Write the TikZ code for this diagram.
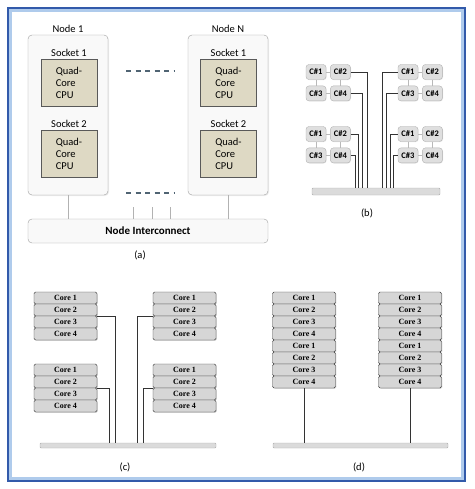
\documentclass[tikz,border=0pt]{standalone}
\usepackage{fontspec}
\setmainfont{Carlito}
\newfontfamily\corefont{Liberation Serif}
\usetikzlibrary{positioning,shadows}
\definecolor{cpufill}{RGB}{222,217,196}
\definecolor{corefill}{RGB}{214,214,214}
\definecolor{dashc}{RGB}{80,100,115}
\definecolor{frameblue}{RGB}{50,90,170}
\definecolor{framelight}{RGB}{175,203,236}
\tikzset{
  lbl/.style={font=\fontsize{10.5}{12}\selectfont, inner sep=1pt},
  nodebox/.style={draw=gray!75, fill=gray!5, rounded corners=4pt, minimum width=80, minimum height=160,
    drop shadow={opacity=0.15, shadow xshift=1pt, shadow yshift=-1pt}},
  cpubox/.style={draw=gray!70!black, fill=cpufill, minimum width=56, minimum height=47, align=left,
    font=\fontsize{10.5}{12}\selectfont, inner sep=0pt},
  icbox/.style={draw=gray!75, fill=gray!5, rounded corners=4pt, minimum width=240, minimum height=24,
    font=\fontsize{11}{13}\selectfont\bfseries},
  cbox/.style={draw=gray!60, fill=gray!25, rounded corners=3pt, minimum width=20, minimum height=15,
    inner sep=0pt, font=\fontsize{8.5}{9}\selectfont\bfseries, drop shadow={opacity=0.2, shadow xshift=0.6pt, shadow yshift=-0.6pt}},
  corebox/.style={draw=gray!45!black, fill=corefill, rounded corners=1.5pt, minimum width=63, minimum height=12,
    inner sep=0pt, font=\corefont\fontsize{8}{9}\selectfont\bfseries, drop shadow={opacity=0.3, shadow xshift=0.8pt, shadow yshift=-0.8pt}},
  bar/.style={draw=gray!65, fill=gray!28, rounded corners=1pt, minimum height=6, inner sep=0pt},
  wire/.style={draw=gray!40!black, line width=0.7pt},
  thinwire/.style={draw=gray!55, line width=0.5pt}
}
\begin{document}
\begin{tikzpicture}[x=1pt, y=-1pt]
\useasboundingbox (0,0) rectangle (474,489);
\draw[framelight, line width=3pt] (10.5,10.5) rectangle (462.5,478.5);
\draw[frameblue, line width=1.2pt] (8,8) rectangle (465,481);
% (a)
\node[nodebox] (node1) at (68,115) {};
\node[nodebox] (nodeN) at (228,115) {};
\node[lbl, above=1pt of node1] (n1lbl) {Node 1};
\node[lbl, above=1pt of nodeN] (nNlbl) {Node N};
\foreach \n/\x in {1/69, N/228.5} {
  \node[cpubox] (cpu\n a) at (\x,82.5) {Quad-\\Core\\CPU};
  \node[cpubox] (cpu\n b) at (\x,153.5) {Quad-\\Core\\CPU};
  \node[lbl, above=1pt of cpu\n a] (s\n a) {Socket 1};
  \node[lbl, above=1pt of cpu\n b] (s\n b) {Socket 2};
}
\draw[dashc, line width=1.1pt, dash pattern=on 5pt off 4.5pt] (126,71) -- (175,71) (126,193) -- (175,193);
\node[icbox] (ic) at (148,231) {Node Interconnect};
\draw[wire, draw=gray!60] (node1.south) -- (node1.south |- ic.north) (nodeN.south) -- (nodeN.south |- ic.north);
\foreach \x in {133,152,170} \draw[wire, draw=gray!60] (\x,207) -- (\x,219);
\node[lbl] (capa) at (140,255) {(a)};
% (b)
\foreach \g/\x/\y in {tl/316/72, bl/316/134, tr/408/72, br/408/134} {
  \node[cbox] (\g1) at (\x,\y) {C\#1};
  \node[cbox, right=4pt of \g1] (\g2) {C\#2};
  \node[cbox, below=6pt of \g1] (\g3) {C\#3};
  \node[cbox, right=4pt of \g3] (\g4) {C\#4};
  \draw[thinwire] (\g1) -- (\g2) (\g3) -- (\g4) (\g1) -- (\g3) (\g2) -- (\g4);
}
\node[bar, minimum width=128, minimum height=7] (busb) at (376,191.5) {};
\foreach \s/\dx in {tl2/-9, tl4/-14, bl2/-18, bl4/-21} \draw[wire] (\s.east) -| ([xshift=\dx pt]busb.north);
\foreach \s/\dx in {tr1/6, tr3/10, br1/14, br3/17} \draw[wire] (\s.west) -| ([xshift=\dx pt]busb.north);
\node[lbl] (capb) at (367,213) {(b)};
% (c)
\foreach \s/\x/\y in {c1/65.5/292, c2/184.5/292, c3/65.5/364, c4/184.5/364}
  \foreach \i in {1,...,4} \node[corebox] (\s\i) at (\x,{\y+12*\i-6}) {Core \i};
\node[bar, minimum width=176, minimum height=5] (busc) at (128,445.5) {};
\draw[wire] (c12.south east) -| ([xshift=-13pt]busc.north);
\draw[wire] (c32.south east) -| ([xshift=-19pt]busc.north);
\draw[wire] (c22.south west) -| ([xshift=9pt]busc.north);
\draw[wire] (c42.south west) -| ([xshift=15pt]busc.north);
\node[lbl] (capc) at (125,467) {(c)};
% (d)
\foreach \s/\x in {d1/304, d2/410}
  \foreach \i in {1,...,8} {
    \pgfmathtruncatemacro\k{mod(\i-1,4)+1}
    \node[corebox] (\s\i) at (\x,{292+12*\i-6}) {Core \k};
  }
\node[bar, minimum width=175, minimum height=5] (busd) at (360.5,445.5) {};
\draw[wire] (d18.south) -- (d18.south |- busd.north) (d28.south) -- (d28.south |- busd.north);
\node[lbl] (capd) at (359,467) {(d)};
\end{tikzpicture}
\end{document}
